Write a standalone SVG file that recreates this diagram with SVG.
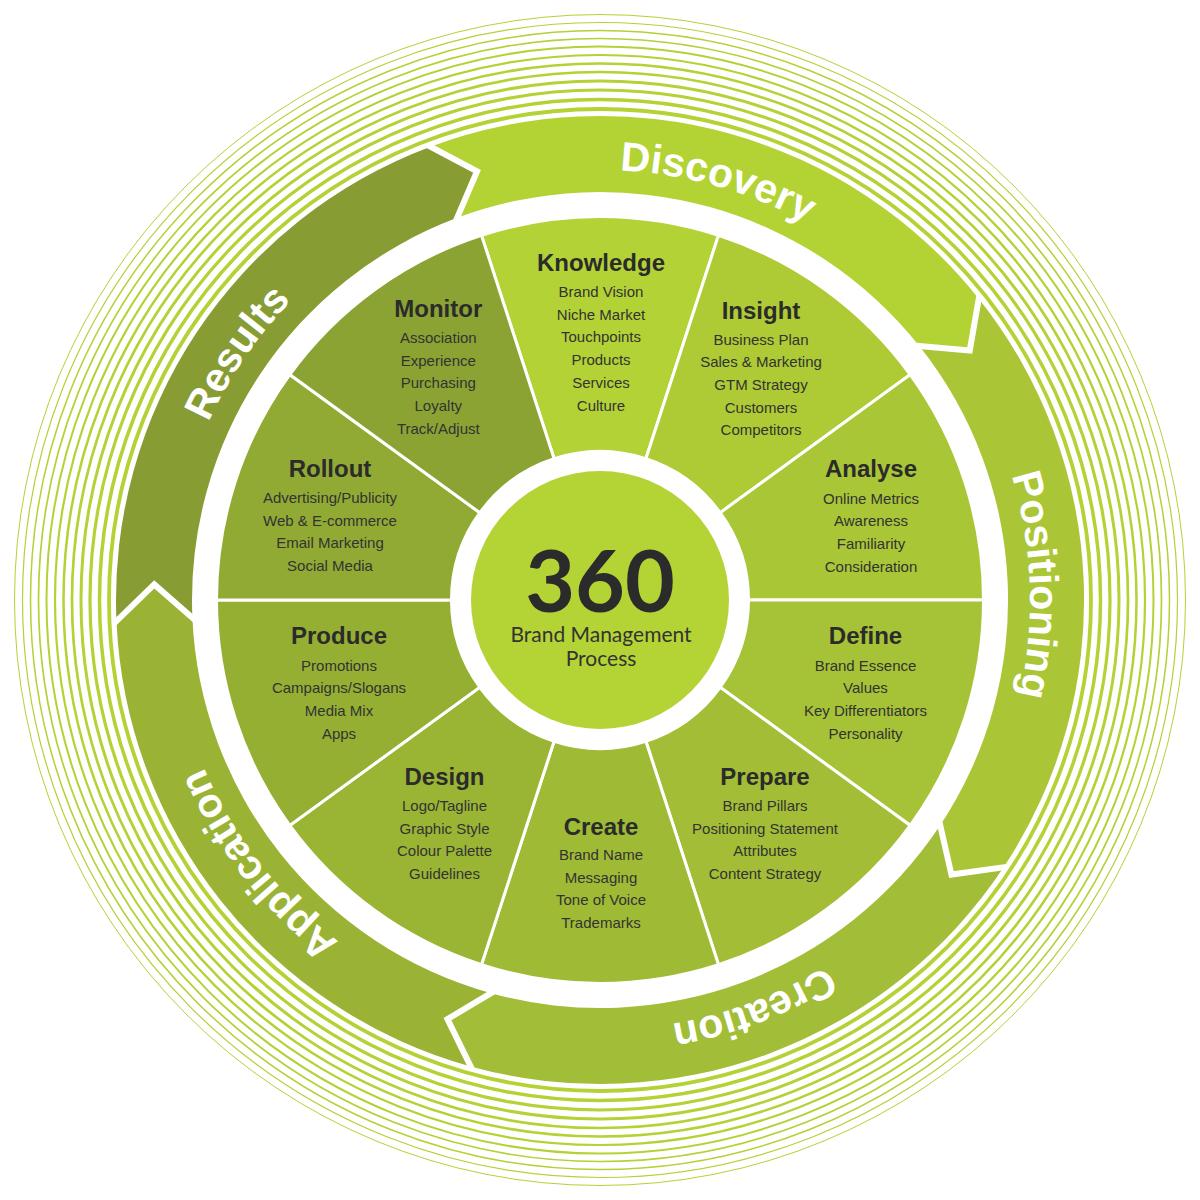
<svg xmlns="http://www.w3.org/2000/svg" width="1200" height="1200" viewBox="0 0 1200 1200">
<style>
.ring{fill:none;stroke:#b3d235}
.seg{stroke:#fff;stroke-width:3}
.gap{fill:none;stroke:#fff;stroke-width:6;stroke-linejoin:miter;stroke-linecap:square}
.phase{font-family:"Liberation Sans",Arial,sans-serif;font-weight:bold;font-size:41px;fill:#fff;text-anchor:middle}
.title{font-family:"Liberation Sans",Arial,sans-serif;font-weight:bold;font-size:24px;fill:#2b2b2b;text-anchor:middle}
.item{font-family:"Liberation Sans",Arial,sans-serif;font-size:15px;fill:#333;text-anchor:middle}
</style>
<defs>
<path id="lbl" d="M600,170 A430,430 0 1 1 600,1030 A430,430 0 1 1 600,170"/>
</defs>
<rect width="1200" height="1200" fill="#fff"/>
<g id="outer-rings">
<circle class="ring" cx="600" cy="600" r="585.5" stroke-width="1"/>
<circle class="ring" cx="600" cy="600" r="577.5" stroke-width="1.2"/>
<circle class="ring" cx="600" cy="600" r="569.5" stroke-width="1.5"/>
<circle class="ring" cx="600" cy="600" r="561.5" stroke-width="1.7"/>
<circle class="ring" cx="600" cy="600" r="553.5" stroke-width="2"/>
<circle class="ring" cx="600" cy="600" r="545" stroke-width="2.2"/>
<circle class="ring" cx="600" cy="600" r="536.5" stroke-width="2.5"/>
<circle class="ring" cx="600" cy="600" r="528" stroke-width="2.7"/>
<circle class="ring" cx="600" cy="600" r="519" stroke-width="3"/>
<circle class="ring" cx="600" cy="600" r="510" stroke-width="3.2"/>
<circle class="ring" cx="600" cy="600" r="500.5" stroke-width="3.5"/>
<circle class="ring" cx="600" cy="600" r="491" stroke-width="3.8"/>
</g>
<g id="phase-discovery">
<path fill="#b3d335" d="M430.50,146.65 A484,484 0 0 1 978.78,298.70 L969.75,350.60 L919.30,346.01 A408,408 0 0 0 457.12,217.84 L477.07,171.28 Z"/>
<text class="phase"><textPath href="#lbl" startOffset="117.8">Discovery</textPath></text>
</g>
<g id="phase-positioning">
<path fill="#aac637" d="M978.78,298.70 A484,484 0 0 1 1003.60,867.30 L951.45,874.58 L940.23,825.32 A408,408 0 0 0 919.30,346.01 L969.75,350.60 Z"/>
<text class="phase"><textPath href="#lbl" startOffset="660.5">Positioning</textPath></text>
</g>
<g id="phase-creation">
<path fill="#a2bd37" d="M1003.60,867.30 A484,484 0 0 1 470.66,1066.40 L447.46,1019.10 L490.97,993.16 A408,408 0 0 0 940.23,825.32 L951.45,874.58 Z"/>
<text class="phase"><textPath href="#lbl" startOffset="1195.6">Creation</textPath></text>
</g>
<g id="phase-application">
<path fill="#9ab335" d="M470.66,1066.40 A484,484 0 0 1 116.46,621.11 L154.27,584.43 L192.39,617.80 A408,408 0 0 0 490.97,993.16 L447.46,1019.10 Z"/>
<text class="phase"><textPath href="#lbl" startOffset="1742.6">Application</textPath></text>
</g>
<g id="phase-results">
<path fill="#879c33" d="M116.46,621.11 A484,484 0 0 1 430.50,146.65 L477.07,171.28 L457.12,217.84 A408,408 0 0 0 192.39,617.80 L154.27,584.43 Z"/>
<text class="phase"><textPath href="#lbl" startOffset="2283">Results</textPath></text>
</g>
<g id="connectors">
<polyline class="gap" points="430.50,146.65 477.07,171.28 457.12,217.84"/>
<polyline class="gap" points="978.78,298.70 969.75,350.60 919.30,346.01"/>
<polyline class="gap" points="1003.60,867.30 951.45,874.58 940.23,825.32"/>
<polyline class="gap" points="470.66,1066.40 447.46,1019.10 490.97,993.16"/>
<polyline class="gap" points="116.46,621.11 154.27,584.43 192.39,617.80"/>
</g>
<g id="knowledge">
<path class="seg" fill="#b3d236" d="M481.49,235.27 A383.5,383.5 0 0 1 718.51,235.27 L645.89,458.77 A148.5,148.5 0 0 0 554.11,458.77 Z"/>
<text class="title" x="601" y="271">Knowledge</text>
<text class="item" x="601" y="297">Brand Vision</text>
<text class="item" x="601" y="319.7">Niche Market</text>
<text class="item" x="601" y="342.4">Touchpoints</text>
<text class="item" x="601" y="365.1">Products</text>
<text class="item" x="601" y="387.8">Services</text>
<text class="item" x="601" y="410.5">Culture</text>
</g>
<g id="insight">
<path class="seg" fill="#aecb35" d="M718.51,235.27 A383.5,383.5 0 0 1 910.26,374.58 L720.14,512.71 A148.5,148.5 0 0 0 645.89,458.77 Z"/>
<text class="title" x="761" y="319">Insight</text>
<text class="item" x="761" y="344.5">Business Plan</text>
<text class="item" x="761" y="367.2">Sales &amp; Marketing</text>
<text class="item" x="761" y="389.9">GTM Strategy</text>
<text class="item" x="761" y="412.6">Customers</text>
<text class="item" x="761" y="435.3">Competitors</text>
</g>
<g id="analyse">
<path class="seg" fill="#a9c636" d="M910.26,374.58 A383.5,383.5 0 0 1 983.5,600 L748.5,600 A148.5,148.5 0 0 0 720.14,512.71 Z"/>
<text class="title" x="871" y="477">Analyse</text>
<text class="item" x="871" y="503.5">Online Metrics</text>
<text class="item" x="871" y="526.2">Awareness</text>
<text class="item" x="871" y="548.9">Familiarity</text>
<text class="item" x="871" y="571.6">Consideration</text>
</g>
<g id="define">
<path class="seg" fill="#a6c236" d="M983.5,600 A383.5,383.5 0 0 1 910.26,825.42 L720.14,687.29 A148.5,148.5 0 0 0 748.5,600 Z"/>
<text class="title" x="865.5" y="644">Define</text>
<text class="item" x="865.5" y="670.5">Brand Essence</text>
<text class="item" x="865.5" y="693.2">Values</text>
<text class="item" x="865.5" y="715.9">Key Differentiators</text>
<text class="item" x="865.5" y="738.6">Personality</text>
</g>
<g id="prepare">
<path class="seg" fill="#a3be36" d="M910.26,825.42 A383.5,383.5 0 0 1 718.51,964.73 L645.89,741.23 A148.5,148.5 0 0 0 720.14,687.29 Z"/>
<text class="title" x="765" y="785">Prepare</text>
<text class="item" x="765" y="811">Brand Pillars</text>
<text class="item" x="765" y="833.7">Positioning Statement</text>
<text class="item" x="765" y="856.4">Attributes</text>
<text class="item" x="765" y="879.1">Content Strategy</text>
</g>
<g id="create">
<path class="seg" fill="#9fba35" d="M718.51,964.73 A383.5,383.5 0 0 1 481.49,964.73 L554.11,741.23 A148.5,148.5 0 0 0 645.89,741.23 Z"/>
<text class="title" x="601" y="834.5">Create</text>
<text class="item" x="601" y="860">Brand Name</text>
<text class="item" x="601" y="882.7">Messaging</text>
<text class="item" x="601" y="905.4">Tone of Voice</text>
<text class="item" x="601" y="928.1">Trademarks</text>
</g>
<g id="design">
<path class="seg" fill="#9ab534" d="M481.49,964.73 A383.5,383.5 0 0 1 289.74,825.42 L479.86,687.29 A148.5,148.5 0 0 0 554.11,741.23 Z"/>
<text class="title" x="444.5" y="785">Design</text>
<text class="item" x="444.5" y="811">Logo/Tagline</text>
<text class="item" x="444.5" y="833.7">Graphic Style</text>
<text class="item" x="444.5" y="856.4">Colour Palette</text>
<text class="item" x="444.5" y="879.1">Guidelines</text>
</g>
<g id="produce">
<path class="seg" fill="#95af33" d="M289.74,825.42 A383.5,383.5 0 0 1 216.5,600 L451.5,600 A148.5,148.5 0 0 0 479.86,687.29 Z"/>
<text class="title" x="339" y="644">Produce</text>
<text class="item" x="339" y="670.5">Promotions</text>
<text class="item" x="339" y="693.2">Campaigns/Slogans</text>
<text class="item" x="339" y="715.9">Media Mix</text>
<text class="item" x="339" y="738.6">Apps</text>
</g>
<g id="rollout">
<path class="seg" fill="#91aa33" d="M216.5,600 A383.5,383.5 0 0 1 289.74,374.58 L479.86,512.71 A148.5,148.5 0 0 0 451.5,600 Z"/>
<text class="title" x="330" y="477">Rollout</text>
<text class="item" x="330" y="503">Advertising/Publicity</text>
<text class="item" x="330" y="525.7">Web &amp; E-commerce</text>
<text class="item" x="330" y="548.4">Email Marketing</text>
<text class="item" x="330" y="571.1">Social Media</text>
</g>
<g id="monitor">
<path class="seg" fill="#8aa333" d="M289.74,374.58 A383.5,383.5 0 0 1 481.49,235.27 L554.11,458.77 A148.5,148.5 0 0 0 479.86,512.71 Z"/>
<text class="title" x="438.3" y="317">Monitor</text>
<text class="item" x="438.3" y="343">Association</text>
<text class="item" x="438.3" y="365.7">Experience</text>
<text class="item" x="438.3" y="388.4">Purchasing</text>
<text class="item" x="438.3" y="411.1">Loyalty</text>
<text class="item" x="438.3" y="433.8">Track/Adjust</text>
</g>
<g id="center">
<circle cx="600" cy="600" r="129" fill="#b4d334"/>
<text x="600" y="612" text-anchor="middle" font-family="Lato,'Open Sans',sans-serif" font-weight="bold" font-size="86" fill="#2b2b2b">360</text>
<text x="601" y="642" text-anchor="middle" font-family="Lato,'Open Sans',sans-serif" font-size="21" fill="#333">Brand Management</text>
<text x="601" y="666" text-anchor="middle" font-family="Lato,'Open Sans',sans-serif" font-size="21" fill="#333">Process</text>
</g>
</svg>
